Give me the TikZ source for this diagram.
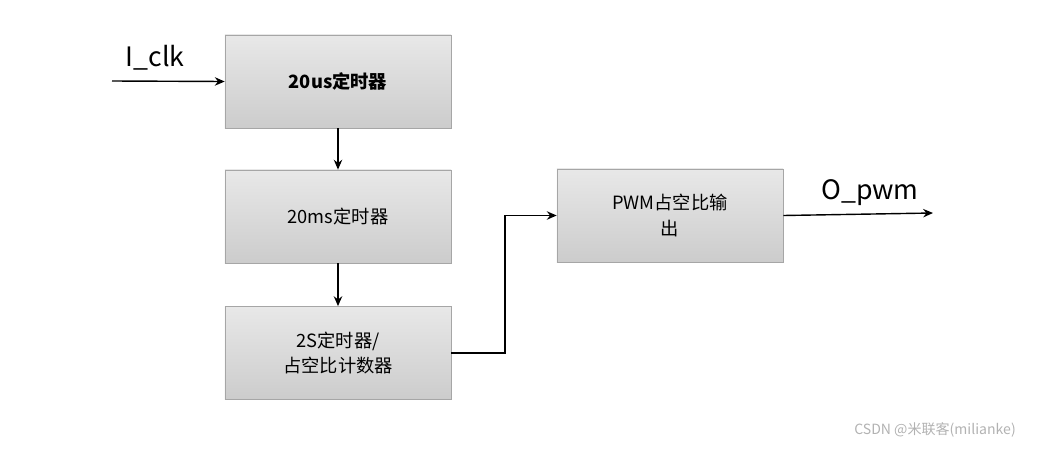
\documentclass[tikz,border=0pt]{standalone}
\usepackage{fontspec}
\setmainfont{Noto Sans CJK SC}
\newfontfamily\cjk{Noto Sans CJK SC}
\usetikzlibrary{arrows.meta}
\begin{document}
\begin{tikzpicture}[x=0.025cm,y=-0.025cm,
  blk/.style={draw=gray!70,top color=gray!18,bottom color=gray!40,minimum width=5.65cm,minimum height=2.33cm,align=center,font=\cjk\fontsize{13}{18}\selectfont,inner sep=0pt},
  arr/.style={-{Stealth[length=7pt,width=6pt]},line width=1pt},
  lbl/.style={font=\cjk\fontsize{19}{22}\selectfont}]
\useasboundingbox (0,0) rectangle (1046,448);
\node[blk] (b1) at (338,81.5) {\textbf{20us定时器}};
\node[blk] (b2) at (338,216.5) {20ms定时器};
\node[blk] (b3) at (338,353) {2S定时器/\\占空比计数器};
\node[blk] (b4) at (670,215.5) {PWM占空比输\\出};
\coordinate (in) at (112,81);
\coordinate (out) at (933,213);
\node[lbl] (l1) at (155,58) {I\_clk};
\node[lbl] (l2) at (870,193) {O\_pwm};
\draw[arr] (in) -- (b1.west);
\draw[arr] (b1.south) -- (b2.north);
\draw[arr] (b2.south) -- (b3.north);
\draw[arr] (b3.east) -- (505,353) -- (505,215.5) -- (b4.west);
\draw[arr] (b4.east) -- (out);
\node[font=\cjk\fontsize{10}{12}\selectfont,text=gray!60] (wm) at (935,430) {CSDN @米联客(milianke)};
\end{tikzpicture}
\end{document}
